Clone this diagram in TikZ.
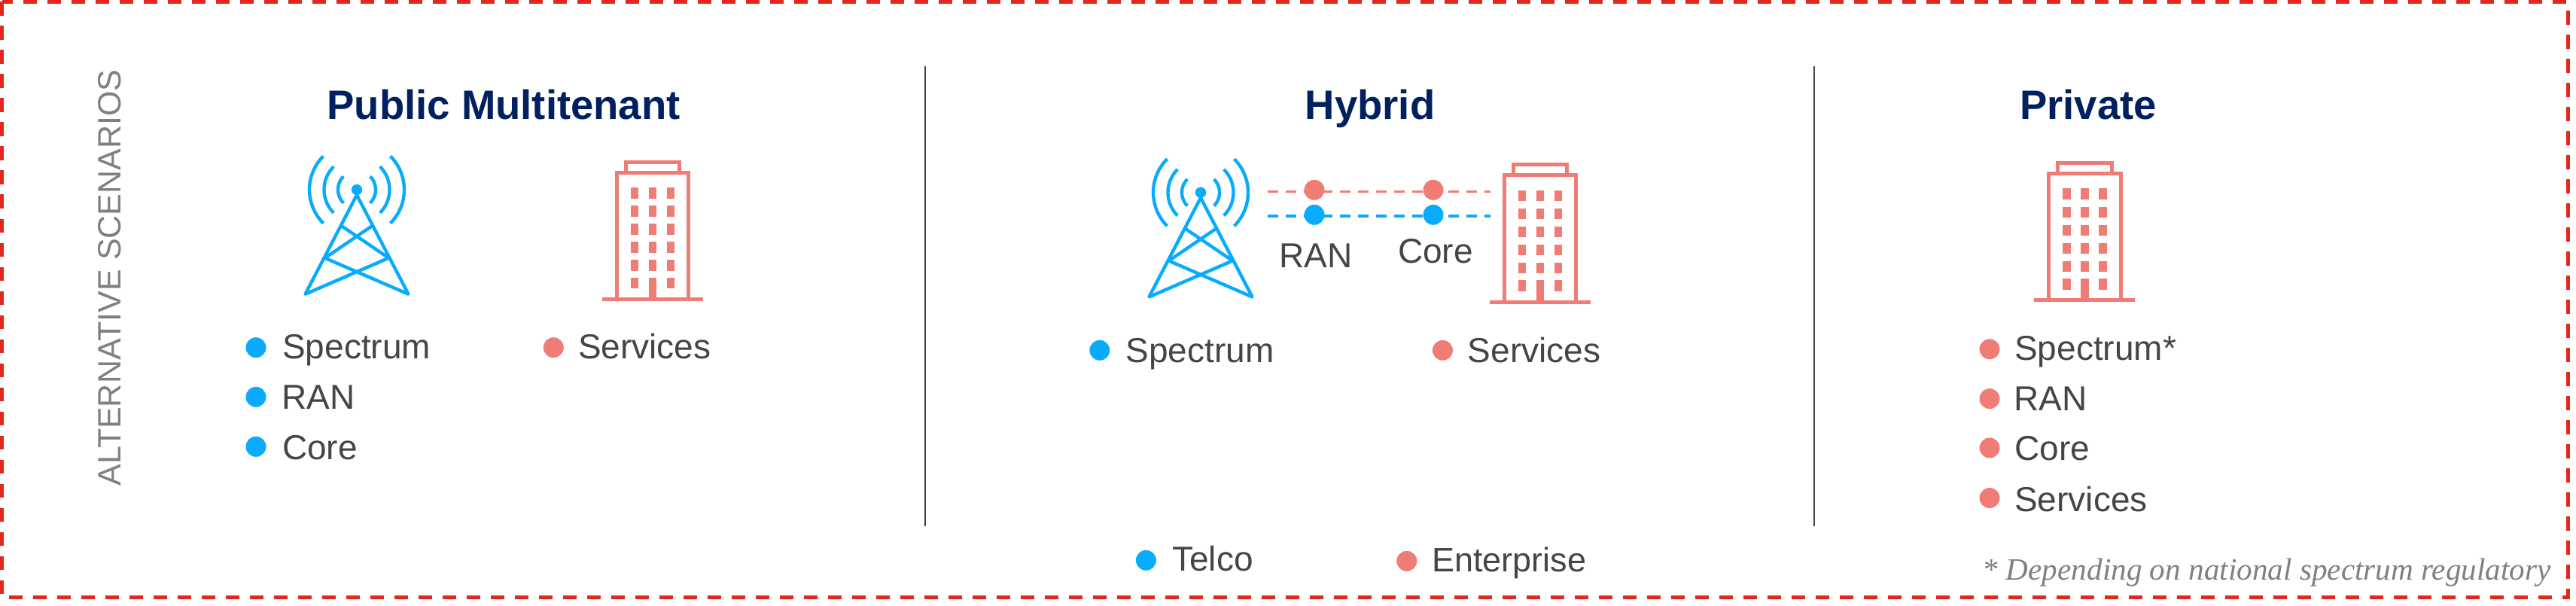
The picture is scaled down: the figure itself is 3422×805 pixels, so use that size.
\documentclass[tikz,border=0pt]{standalone}
\usepackage{fontspec}
\setmainfont{Liberation Sans}
\newfontfamily\noteserif{Liberation Serif}
\definecolor{telco}{HTML}{09ABFD}
\definecolor{ent}{HTML}{F07C76}
\definecolor{navy}{HTML}{002060}
\definecolor{ink}{HTML}{454545}
\definecolor{frame}{HTML}{E0281E}
\definecolor{soft}{HTML}{808080}
\tikzset{
  dotmark/.style={circle,minimum size=27pt,inner sep=0pt,draw=none},
  teldot/.style={dotmark,fill=telco},
  entdot/.style={dotmark,fill=ent},
  label text/.style={anchor=base west,inner sep=0pt,text=ink,font=\fontsize{46}{50}\selectfont},
  label mid/.style={anchor=base,inner sep=0pt,text=ink,font=\fontsize{46}{50}\selectfont},
  title text/.style={anchor=base,inner sep=0pt,text=navy,font=\fontsize{54.5}{60}\selectfont\bfseries},
  divider/.style={draw=ink,line width=2.5pt},
  link/.style={line width=3.2pt,dash pattern=on 14pt off 10pt},
  tower/.pic={
    \begin{scope}[draw=telco,line width=4.4pt,line join=round,line cap=round]
      \fill[telco] (0,0) circle (7.2pt);
      \draw (0,7) -- (-68.5,138.7) -- (42.4,90.7) -- (-20.5,48);
      \draw (0,7) -- (68.5,138.7) -- (-42.4,90.7) -- (20.5,48);
      \foreach \r in {25,43.5,63}{
        \draw[line cap=butt] plot[domain=135:225,samples=25,smooth] ({\r*cos(\x)},{\r*sin(\x)});
        \draw[line cap=butt] plot[domain=-45:45,samples=25,smooth] ({\r*cos(\x)},{\r*sin(\x)});
      }
    \end{scope}
  },
  building/.pic={
    \begin{scope}[draw=ent,line width=5pt]
      \fill[ent] (-67,-2.5) rectangle (67,2.5);
      \draw (-47.7,0) -- (-47.7,-168) -- (47.7,-168) -- (47.7,0);
      \draw (-35.7,-168) -- (-35.7,-182) -- (35.7,-182) -- (35.7,-168);
      \foreach \c in {-24,0,24}{
        \foreach \t in {-148.3,-124.3,-100.3,-76.3,-52.3}{
          \fill[ent] (\c-5.2,\t) rectangle (\c+5.2,\t+14.6);
        }
      }
      \fill[ent] (-29.2,-28.7) rectangle (-18.8,-14.1);
      \fill[ent] (18.8,-28.7) rectangle (29.2,-14.1);
      \fill[ent] (-5.2,-28.7) rectangle (5.2,0);
    \end{scope}
  }
}
\begin{document}
\begin{tikzpicture}[x=1pt,y=-1pt]
\useasboundingbox (0,0) rectangle (3422,805);
% frame
\draw[frame,line width=5pt,dash pattern=on 18.5pt off 13.5pt] (2.5,2.5) rectangle (3411,793.3);
% side label
\node[anchor=base,inner sep=0pt,rotate=90,text=soft,font=\fontsize{43}{50}\selectfont] (side) at (160,369) {ALTERNATIVE SCENARIOS};
% dividers
\coordinate (d1a) at (1229,88); \coordinate (d1b) at (1229,699);
\coordinate (d2a) at (2410,88); \coordinate (d2b) at (2410,699);
\draw[divider] (d1a) -- (d1b);
\draw[divider] (d2a) -- (d2b);
% titles
\node[title text] (t1) at (669,159) {Public Multitenant};
\node[title text] (t2) at (1820,159) {Hybrid};
\node[title text] (t3) at (2774,159) {Private};
% icons
\pic at (474,252) {tower};
\pic at (867,397.3) {building};
\pic at (1595,255.7) {tower};
\pic at (2046,401) {building};
\pic at (2769.3,398.8) {building};
% public list
\node[teldot] (p1) at (340,461.7) {};
\node[label text] (p1t) at (375,476.7) {Spectrum};
\node[teldot] (p2) at (340,527.3) {};
\node[label text] (p2t) at (374,543.3) {RAN};
\node[teldot] (p3) at (340,593.3) {};
\node[label text] (p3t) at (375,610.7) {Core};
\node[entdot] (p4) at (735.3,461.7) {};
\node[label text] (p4t) at (768,476.7) {Services};
% hybrid
\coordinate (ra) at (1683.8,254.3); \coordinate (rb) at (1979.6,254.3);
\coordinate (ba) at (1683.8,287); \coordinate (bb) at (1979.6,287);
\draw[link,draw=ent] (ra) -- (rb);
\draw[link,draw=telco] (ba) -- (bb);
\node[entdot] (h1) at (1746,252.3) {};
\node[entdot] (h2) at (1904,252.3) {};
\node[teldot] (h3) at (1746,285.3) {};
\node[teldot] (h4) at (1904,285.3) {};
\node[label mid] (h5) at (1748,355) {RAN};
\node[label mid] (h6) at (1907,349) {Core};
\node[teldot] (h7) at (1460.8,465.3) {};
\node[label text] (h7t) at (1495.5,481) {Spectrum};
\node[entdot] (h8) at (1916.4,465.3) {};
\node[label text] (h8t) at (1949.6,481) {Services};
% private
\node[entdot] (v1) at (2643,463.8) {};
\node[label text] (v1t) at (2676,478.5) {Spectrum*};
\node[entdot] (v2) at (2643,529.6) {};
\node[label text] (v2t) at (2675,545.8) {RAN};
\node[entdot] (v3) at (2643,595) {};
\node[label text] (v3t) at (2676,611.5) {Core};
\node[entdot] (v4) at (2643,661.5) {};
\node[label text] (v4t) at (2676,679) {Services};
% legend
\node[teldot] (l1) at (1522.4,744.3) {};
\node[label text] (l1t) at (1557,758) {Telco};
\node[entdot] (l2) at (1868.8,745.3) {};
\node[label text,font=\fontsize{45}{50}\selectfont] (l2t) at (1902,759) {Enterprise};
% note
\node[anchor=base east,inner sep=0pt,text=soft,font=\noteserif\itshape\fontsize{41.2}{46}\selectfont] (note) at (3389,770) {* Depending on national spectrum regulatory};
\end{tikzpicture}
\end{document}
